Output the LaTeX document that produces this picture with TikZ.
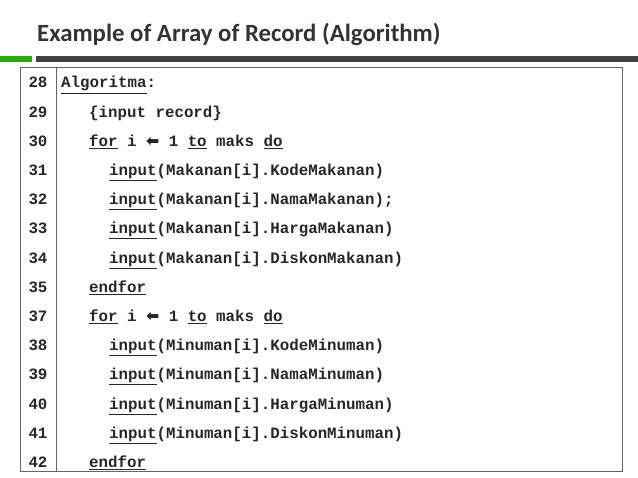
\documentclass[tikz,border=0pt]{standalone}
\usepackage{fontspec}
\setmainfont{Carlito}
\newfontfamily\codefont{Liberation Mono}
\newfontfamily\arrfont{DejaVu Sans}
\begin{document}
\begin{tikzpicture}[x=1pt,y=-1pt,
  code/.style={anchor=base west,inner sep=0pt,font=\codefont\fontsize{15.8}{17}\selectfont\bfseries,text=black!85},
  num/.style={anchor=base,inner sep=0pt,font=\codefont\fontsize{15.8}{17}\selectfont\bfseries,text=black!85}]
\useasboundingbox (0,0) rectangle (638,478);
\node[anchor=base west,inner sep=0pt,font=\fontsize{24.8}{28}\selectfont\bfseries,text=black!80] (title) at (37,42) {Example of Array of Record (Algorithm)};
\fill[green!60!black!80!lime] (0,56) rectangle (32,62);
\fill[black!75] (36,56) rectangle (638,62);
\draw[black!60,line width=1pt] (20,68) rectangle (622,472);
\draw[black!60,line width=0.8pt] (56,68) -- (56,472);
\newcommand{\ul}[1]{\underline{#1}}
\newcommand{\larr}{{\arrfont\bfseries ⬅}}
\foreach \n/\i/\x/\t in {
 28/0/61/{\ul{Algoritma}:},
 29/1/89/{\{input record\}},
 30/2/89/{\ul{for} i \larr\ 1 \ul{to} maks \ul{do}},
 31/3/109/{\ul{input}(Makanan[i].KodeMakanan)},
 32/4/109/{\ul{input}(Makanan[i].NamaMakanan);},
 33/5/109/{\ul{input}(Makanan[i].HargaMakanan)},
 34/6/109/{\ul{input}(Makanan[i].DiskonMakanan)},
 35/7/89/{\ul{endfor}},
 37/8/89/{\ul{for} i \larr\ 1 \ul{to} maks \ul{do}},
 38/9/109/{\ul{input}(Minuman[i].KodeMinuman)},
 39/10/109/{\ul{input}(Minuman[i].NamaMinuman)},
 40/11/109/{\ul{input}(Minuman[i].HargaMinuman)},
 41/12/109/{\ul{input}(Minuman[i].DiskonMinuman)},
 42/13/89/{\ul{endfor}}}{
  \node[num] (n\n) at (38,{88+29.2*\i}) {\n};
  \node[code] (c\n) at (\x,{88+29.2*\i}) {\t};
}
\end{tikzpicture}
\end{document}
